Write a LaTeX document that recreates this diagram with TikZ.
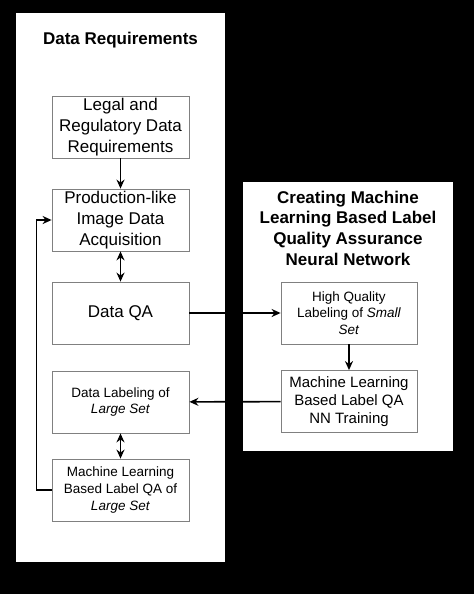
\documentclass[tikz,border=0pt]{standalone}
\usepackage{fontspec}
\setmainfont{Liberation Sans}
\usetikzlibrary{arrows.meta}

\tikzset{
  procbox/.style={draw=gray,line width=0.8pt,fill=white,minimum width=137pt,minimum height=62pt,inner sep=0pt,align=center,font=\fontsize{17}{20.7}\selectfont},
  smallbox/.style={procbox,font=\fontsize{13.5}{16.7}\selectfont},
  midbox/.style={procbox,font=\fontsize{15}{18.3}\selectfont},
  paneltitle/.style={align=center,font=\fontsize{17}{20.7}\selectfont\bfseries},
  panel/.style={fill=white},
  flow/.style={-{Stealth[length=9pt,width=8pt]},line width=1.6pt},
  twoway/.style={{Stealth[length=9pt,width=8pt]}-{Stealth[length=9pt,width=8pt]},line width=1.6pt}
}

\begin{document}
\begin{tikzpicture}[x=1pt,y=-1pt]
\useasboundingbox (0,0) rectangle (474,594);
\fill[black] (0,0) rectangle (474,594);

% the two panels
\fill[panel] (16,13) rectangle (225,562);
\fill[panel] (243,182) rectangle (453,451);

\node[paneltitle,anchor=base] (reqtitle) at (120.5,45) {Data Requirements};
\node[paneltitle] (nntitle) at (348,228) {Creating Machine\\Learning Based Label\\Quality Assurance\\Neural Network};

% left column
\node[procbox] (legal) at (120.5,127) {Legal and\\Regulatory Data\\Requirements};
\node[procbox] (acq) at (120.5,220) {Production-like\\Image Data\\Acquisition};
\node[procbox] (qa) at (120.5,313) {Data QA};
\node[smallbox] (labl) at (120.5,402) {Data Labeling of\\\textit{Large Set}};
\node[smallbox] (mlqa) at (120.5,490) {Machine Learning\\Based Label QA of\\\textit{Large Set}};

% right column
\node[smallbox,minimum width=136pt] (hq) at (349,313) {High Quality\\Labeling of \textit{Small}\\\textit{Set}};
\node[midbox,minimum width=136pt] (nntrain) at (349,401.5) {Machine Learning\\Based Label QA\\NN Training};

\draw[flow] (legal) -- (acq);
\draw[twoway] (acq) -- (qa);
\draw[twoway] (labl) -- (mlqa);
\draw[flow] (qa) -- (hq);
\draw[flow] (hq) -- (nntrain);
\draw[flow] (nntrain) -- (labl);
\draw[flow] (mlqa.west) -- ++(-15,0) |- (acq.west);
\end{tikzpicture}
\end{document}
